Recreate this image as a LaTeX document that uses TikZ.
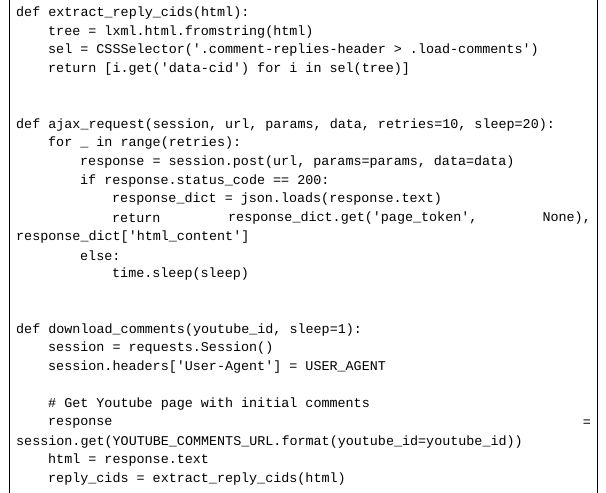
\documentclass[tikz,border=0pt]{standalone}
\usepackage{fontspec}
\setmonofont{Liberation Mono}
\begin{document}
\begin{tikzpicture}[x=1pt,y=-1pt,
  code/.style={anchor=west,inner sep=0pt,font=\ttfamily\fontsize{13.4}{16}\selectfont},
  coder/.style={anchor=east,inner sep=0pt,font=\ttfamily\fontsize{13.4}{16}\selectfont}]
\useasboundingbox (0,0) rectangle (606,493);
\draw[line width=0.8pt] (9,0) -- (9,493);
\draw[line width=0.8pt] (597,0) -- (597,493);
\def\L#1{13+#1*18.64}
\def\I{16}
\def\II{48}
\def\III{80}
\def\IV{112}
\node[code] (l0) at (\I,{\L{0}}) {def extract\_reply\_cids(html):};
\node[code] (l1) at (\II,{\L{1}}) {tree = lxml.html.fromstring(html)};
\node[code] (l2) at (\II,{\L{2}}) {sel = CSSSelector('.comment-replies-header > .load-comments')};
\node[code] (l3) at (\II,{\L{3}}) {return [i.get('data-cid') for i in sel(tree)]};
\node[code] (l6) at (\I,{\L{6}}) {def ajax\_request(session, url, params, data, retries=10, sleep=20):};
\node[code] (l7) at (\II,{\L{7}}) {for \_ in range(retries):};
\node[code] (l8) at (\III,{\L{8}}) {response = session.post(url, params=params, data=data)};
\node[code] (l9) at (\III,{\L{9}}) {if response.status\_code == 200:};
\node[code] (l10) at (\IV,{\L{10}}) {response\_dict = json.loads(response.text)};
\node[code] (l11a) at (\IV,{\L{11}}) {return};
\node[code] (l11b) at (228,{\L{11}}) {response\_dict.get('page\_token',};
\node[coder] (l11c) at (591,{\L{11}}) {None),};
\node[code] (l12) at (\I,{\L{12}}) {response\_dict['html\_content']};
\node[code] (l13) at (\III,{\L{13}}) {else:};
\node[code] (l14) at (\IV,{\L{14}}) {time.sleep(sleep)};
\node[code] (l17) at (\I,{\L{17}}) {def download\_comments(youtube\_id, sleep=1):};
\node[code] (l18) at (\II,{\L{18}}) {session = requests.Session()};
\node[code] (l19) at (\II,{\L{19}}) {session.headers['User-Agent'] = USER\_AGENT};
\node[code] (l21) at (\II,{\L{21}}) {\# Get Youtube page with initial comments};
\node[code] (l22a) at (\II,{\L{22}}) {response};
\node[coder] (l22b) at (591,{\L{22}}) {=};
\node[code] (l23) at (\I,{\L{23}}) {session.get(YOUTUBE\_COMMENTS\_URL.format(youtube\_id=youtube\_id))};
\node[code] (l24) at (\II,{\L{24}}) {html = response.text};
\node[code] (l25) at (\II,{\L{25}}) {reply\_cids = extract\_reply\_cids(html)};
\end{tikzpicture}
\end{document}
